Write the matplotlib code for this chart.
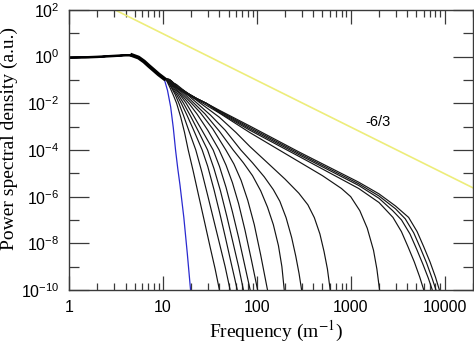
import numpy as np
import matplotlib
matplotlib.use("Agg")
import matplotlib.pyplot as plt
from matplotlib.ticker import FixedLocator, LogLocator, FuncFormatter, NullFormatter

plt.rcParams["font.family"] = "Liberation Sans"
plt.rcParams["mathtext.fontset"] = "custom"
plt.rcParams["mathtext.rm"] = "Liberation Sans"
plt.rcParams["mathtext.it"] = "Liberation Sans:italic"

# part common to all spectra (frequency, log10 of the PSD)
COMMON_F = [1, 1.5, 2, 3, 4, 4.7, 5.5, 6.3, 7.1, 8, 9, 10.3]
COMMON_LOGP = [-0.04, -0.03, -0.01, 0.03, 0.06, 0.06, -0.04, -0.21, -0.40, -0.58, -0.76, -0.94]

# blue spectrum after the common part
BLUE_F = [11.2, 12.1, 12.9, 13.65, 14.4, 15.2, 16.7, 18.2, 19.7]
BLUE_LOGP = [-1.45, -2.16, -3.05, -4.02, -4.8, -5.5, -6.89, -8.45, -10.0]

# black spectra after the common part
C1_F = [11.0, 12.0, 13.0, 14.0, 15.5, 17.0, 18.6, 21, 24, 28, 32, 36, 40]
C1_LOGP = [-1.04, -1.36, -1.68, -2.0, -2.6, -3.25, -4.0, -4.9, -5.95, -7.15, -8.2, -9.1, -10.0]
C2_F = [11, 12.2, 13.5, 14.8, 16.5, 19, 22.4, 26, 30, 35, 40, 46, 52]
C2_LOGP = [-1.02, -1.3, -1.62, -2.0, -2.5, -3.2, -4.0, -4.95, -5.95, -7.05, -8.0, -9.0, -10.0]
C3_F = [11, 12.4, 14, 15.7, 18, 21, 26.2, 30, 35, 40, 46, 53, 62]
C3_LOGP = [-1.0, -1.3, -1.63, -2.0, -2.5, -3.1, -4.0, -4.7, -5.7, -6.65, -7.7, -8.8, -10.0]
C4_F = [11, 12.6, 14.5, 16.6, 20, 24, 29.9, 35, 41, 48, 56, 64, 72]
C4_LOGP = [-0.99, -1.27, -1.62, -2.0, -2.6, -3.22, -4.0, -4.8, -5.75, -6.85, -8.0, -9.0, -10.0]
C5_F = [11, 12.8, 15, 17.7, 21, 26, 34.3, 40, 47, 55, 64, 74, 85]
C5_LOGP = [-0.98, -1.25, -1.6, -2.0, -2.5, -3.15, -4.0, -4.7, -5.6, -6.65, -7.75, -8.9, -10.0]
C6_F = [11, 13, 15.5, 18.9, 23, 30, 39.7, 47, 55, 64, 75, 88, 102]
C6_LOGP = [-0.98, -1.25, -1.6, -2.0, -2.45, -3.15, -4.0, -4.65, -5.4, -6.3, -7.45, -8.75, -10.0]
C7_F = [11, 13.2, 16, 20.2, 25, 34, 46.8, 57, 68, 80, 94, 110, 130]
C7_LOGP = [-0.97, -1.22, -1.58, -2.0, -2.4, -3.1, -4.0, -4.6, -5.3, -6.15, -7.2, -8.5, -10.0]
C8_F = [11, 13.4, 16.5, 21.5, 28, 40, 56, 72, 90, 110, 130, 150, 170, 185, 196]
C8_LOGP = [-0.97, -1.2, -1.55, -2.0, -2.45, -3.2, -4.0, -4.55, -5.1, -5.75, -6.45, -7.2, -8.1, -9.0, -10.0]
C9_F = [11, 13.6, 17, 23.2, 32, 46, 67.6, 90, 120, 150, 176, 205, 235, 260, 282, 300]
C9_LOGP = [-0.97, -1.18, -1.52, -2.0, -2.5, -3.15, -4.0, -4.55, -5.15, -5.7, -6.2, -6.9, -7.75, -8.55, -9.3, -10.0]
C10_F = [11, 14, 18, 25.2, 40, 60, 84.3, 130, 200, 280, 350, 410, 470, 520, 565, 605]
C10_LOGP = [-0.97, -1.2, -1.55, -2.0, -2.6, -3.25, -3.85, -4.55, -5.25, -5.85, -6.35, -6.9, -7.6, -8.35, -9.1, -10.0]
C11_F = [11, 14.6, 20, 26.8, 40, 84, 200, 500, 797, 1000, 1250, 1500, 1750, 1900, 2030]
C11_LOGP = [-0.97, -1.4, -1.72, -2.0, -2.42, -3.25, -4.15, -5.1, -5.65, -6.0, -6.6, -7.35, -8.3, -9.1, -10.0]

# top bundle: shared start, then four slightly different tails
TOP_F = [11, 11.7, 12.6, 13.6, 14.6, 15.4, 16.5, 18, 20, 23, 29]
TOP_LOGP = [-0.96, -0.98, -1.08, -1.25, -1.37, -1.41, -1.45, -1.55, -1.66, -1.80, -2.0]
T1_F = [40, 84, 280, 1217, 2000, 2820, 3470, 4080, 4760, 5440, 6000]
T1_LOGP = [-2.4, -3.15, -4.27, -5.65, -6.25, -6.89, -7.5, -8.15, -8.8, -9.45, -10.0]
T2_F = [40, 84, 280, 1217, 2000, 2800, 3480, 4280, 5040, 5880, 6720, 7400]
T2_LOGP = [-2.36, -3.09, -4.2, -5.52, -6.07, -6.6, -7.0, -7.6, -8.25, -8.9, -9.5, -10.0]
T3_F = [40, 84, 280, 1217, 2000, 3000, 3810, 4690, 5520, 6440, 7360, 8100]
T3_LOGP = [-2.33, -3.03, -4.14, -5.45, -5.97, -6.52, -6.95, -7.55, -8.2, -8.85, -9.5, -10.0]
T4_F = [40, 84, 280, 1217, 2000, 3000, 4140, 5100, 6000, 7000, 8000, 8800]
T4_LOGP = [-2.3, -2.97, -4.08, -5.38, -5.88, -6.4, -6.89, -7.5, -8.15, -8.8, -9.45, -10.0]

# reference slope line and its label
SLOPE_F = [3.1, 20000]
SLOPE_P = [1e2, 2.4e-6]
SLOPE_LABEL = "-6/3"
SLOPE_LABEL_AT = (1940, 1.55e-3)

LOWER = [(C1_F, C1_LOGP), (C2_F, C2_LOGP), (C3_F, C3_LOGP), (C4_F, C4_LOGP),
         (C5_F, C5_LOGP), (C6_F, C6_LOGP), (C7_F, C7_LOGP), (C8_F, C8_LOGP),
         (C9_F, C9_LOGP), (C10_F, C10_LOGP), (C11_F, C11_LOGP)]
TOPS = [(T1_F, T1_LOGP), (T2_F, T2_LOGP), (T3_F, T3_LOGP), (T4_F, T4_LOGP)]


def psd(logp):
    return 10.0 ** np.asarray(logp, dtype=float)


fig = plt.figure(figsize=(4.74, 3.44), dpi=100)
ax = fig.add_axes([0.1456, 0.157, 0.852, 0.814])

ax.plot(SLOPE_F, SLOPE_P, color="#eded7a", lw=1.2)

for f, lp in LOWER:
    ax.plot(COMMON_F + f, psd(COMMON_LOGP + lp), color="#141414", lw=0.85)
for f, lp in TOPS:
    ax.plot(COMMON_F + TOP_F + f, psd(COMMON_LOGP + TOP_LOGP + lp), color="#141414", lw=0.85)

ax.plot(COMMON_F + BLUE_F, psd(COMMON_LOGP + BLUE_LOGP), color="#2a2ad0", lw=0.9)

# the overlapping start of all spectra looks thicker
ax.plot(COMMON_F[:6], psd(COMMON_LOGP[:6]), color="black", lw=1.8)
ax.plot(COMMON_F[5:], psd(COMMON_LOGP[5:]), color="black", lw=2.8)

ax.text(SLOPE_LABEL_AT[0], SLOPE_LABEL_AT[1], SLOPE_LABEL, fontsize=10.5,
        ha="center", va="center")

ax.set_xscale("log")
ax.set_yscale("log")
ax.set_xlim(1, 2e4)
ax.set_ylim(1e-10, 1e2)

ax.xaxis.set_major_locator(LogLocator(base=10, numticks=10))
ax.xaxis.set_minor_locator(LogLocator(base=10, subs=np.arange(2, 10), numticks=40))
ax.xaxis.set_major_formatter(FuncFormatter(lambda v, pos: "%d" % round(v)))
ax.xaxis.set_minor_formatter(NullFormatter())
ax.yaxis.set_major_locator(FixedLocator(10.0 ** np.arange(-10, 3, 2)))
ax.yaxis.set_minor_locator(FixedLocator(10.0 ** np.arange(-9, 2, 2)))
ax.yaxis.set_major_formatter(FuncFormatter(lambda v, pos: r"$10^{%d}$" % round(np.log10(v))))
ax.yaxis.set_minor_formatter(NullFormatter())

edge = "#3a3a3a"
ax.tick_params(which="both", direction="in", top=True, right=True, color=edge, width=0.9,
               labelsize=11.5)
ax.tick_params(axis="x", which="major", length=10, pad=7)
ax.tick_params(axis="x", which="minor", length=5)
ax.tick_params(axis="y", which="major", length=14.5, pad=7)
ax.tick_params(axis="y", which="minor", length=7)
for s in ax.spines.values():
    s.set_color(edge)
    s.set_linewidth(1.0)

ax.set_xlabel("Frequency (m$^{-1}$)", fontsize=14, fontfamily="Liberation Serif",
              math_fontfamily="stix")
ax.set_ylabel("Power spectral density (a.u.)", fontsize=14, fontfamily="Liberation Serif")
ax.xaxis.set_label_coords(0.512, -0.102)
ax.yaxis.set_label_coords(-0.126, 0.54)

fig.savefig("out.png", dpi=100)
